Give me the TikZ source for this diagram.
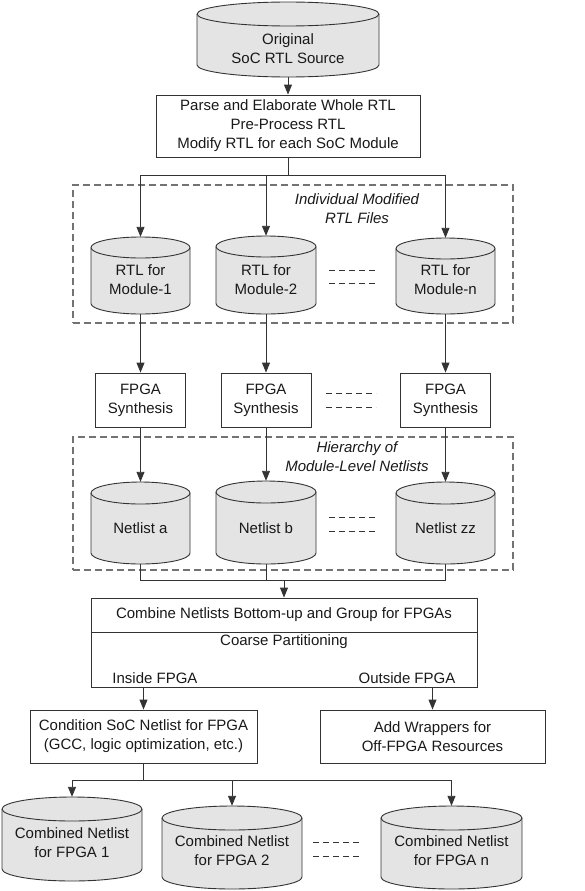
\documentclass[tikz,border=0pt]{standalone}
\usepackage{fontspec}
\setmainfont{Liberation Sans}
\usetikzlibrary{arrows.meta}
\definecolor{cylfill}{HTML}{E4E4E4}
\definecolor{ln}{HTML}{333333}
\newcommand\fs{\fontsize{15}{19}\selectfont}
\tikzset{
 base/.style={line width=0.9pt, draw=ln},
 arr/.style={base, -{Triangle[length=10pt,width=8pt]}},
 boxnode/.style={draw=ln, line width=0.9pt, inner sep=0pt, align=center, font=\fs, text=black!90},
 txt/.style={inner sep=0pt, align=center, font=\fs, text=black!90},
 dbox/.style={draw=black!55, line width=1.2pt, dash pattern=on 7pt off 4pt, inner sep=0pt},
 dots/.style={draw=ln, line width=0.9pt, dash pattern=on 6pt off 4pt},
}
\newcommand\mycyl[8]{%
 \filldraw[fill=cylfill, draw=ln, line width=0.9pt] (#2-#5,#3+#6) -- (#2-#5,#4-#6)
   arc[start angle=180,end angle=0,x radius=#5pt,y radius=#6pt] -- (#2+#5,#3+#6)
   arc[start angle=0,end angle=-180,x radius=#5pt,y radius=#6pt] -- cycle;
 \draw[base] (#2-#5,#3+#6) arc[start angle=180,end angle=0,x radius=#5pt,y radius=#6pt];
 \node[inner sep=0pt, minimum width=#5*2pt, minimum height=(#4-#3)*1pt] (#1) at (#2,{(#3+#4)/2}) {};
 \node[txt] (#1t) at (#2,#7) {#8};
}
\begin{document}
\begin{tikzpicture}[x=1pt,y=1pt,yscale=-1]
\useasboundingbox (0,0) rectangle (584,891);

% top
\mycyl{src}{288}{2}{77}{91}{12}{49}{Original\\SoC RTL Source}
\node[boxnode, minimum width=264pt, minimum height=62pt] (parse) at (288,126) {Parse and Elaborate Whole RTL\\Pre-Process RTL\\Modify RTL for each SoC Module};

% group 1
\node[dbox, minimum width=440pt, minimum height=138pt] (g1) at (293,254) {};
\node[txt, font=\fs\itshape] (g1l) at (357,209) {Individual Modified\\RTL Files};
\mycyl{r1}{140.5}{237}{314}{49.5}{10.5}{280}{RTL for\\Module-1}
\mycyl{r2}{266}{236}{314}{50}{10.5}{280}{RTL for\\Module-2}
\mycyl{rn}{445.5}{238}{314}{49.5}{10.5}{280}{RTL for\\Module-n}
\draw[dots] (329,270) -- (378,270);
\draw[dots] (329,283) -- (378,283);

% synthesis
\node[boxnode, minimum width=90pt, minimum height=54pt] (s1) at (140.5,400) {FPGA\\Synthesis};
\node[boxnode, minimum width=90pt, minimum height=54pt] (s2) at (266,400) {FPGA\\Synthesis};
\node[boxnode, minimum width=90pt, minimum height=54pt] (s3) at (445.5,400) {FPGA\\Synthesis};
\draw[dots] (326,393) -- (376,393);
\draw[dots] (326,407) -- (376,407);

% group 2
\node[dbox, minimum width=440pt, minimum height=133pt] (g2) at (293,503.5) {};
\node[txt, font=\fs\itshape] (g2l) at (357,457) {Hierarchy of\\Module-Level Netlists};
\mycyl{n1}{140.5}{482}{564}{49.5}{11}{528}{Netlist a}
\mycyl{n2}{266}{481}{564}{50}{11}{528}{Netlist b}
\mycyl{nz}{445.5}{482}{564}{49.5}{11}{528}{Netlist zz}
\draw[dots] (329,517) -- (378,517);
\draw[dots] (329,531) -- (378,531);

% combine
\node[draw=ln, line width=0.9pt, inner sep=0pt, minimum width=386pt, minimum height=89pt] (comb) at (284,642.5) {};
\path (comb.north west) ++(0,35) coordinate (cl);
\draw[base] (cl) -- (cl -| comb.east);
\node[txt] (combt) at (284,615) {Combine Netlists Bottom-up and Group for FPGAs};
\node[txt] (coarse) at (284,642) {Coarse Partitioning};
\node[txt] (inside) at (155,678) {Inside FPGA};
\node[txt] (outside) at (407,678) {Outside FPGA};

\node[boxnode, minimum width=227pt, minimum height=53pt] (cond) at (143.5,736.5) {Condition SoC Netlist for FPGA\\(GCC, logic optimization, etc.)};
\node[boxnode, minimum width=225pt, minimum height=53pt] (wrap) at (432.5,736.5) {Add Wrappers for\\Off-FPGA Resources};

% bottom
\mycyl{f1}{72}{797}{881}{70}{12}{843}{Combined Netlist\\for FPGA 1}
\mycyl{f2}{232}{806}{889}{70}{12}{851}{Combined Netlist\\for FPGA 2}
\mycyl{fn}{451.5}{806}{889}{70.5}{12}{851}{Combined Netlist\\for FPGA n}
\draw[dots] (313,842) -- (359,842);
\draw[dots] (313,856) -- (359,856);

% connectors
\draw[arr] (src.south) -- (parse.north);
\coordinate (j1) at (288,175);
\draw[base] (parse.south) -- (j1);
\draw[arr] (j1) -| (r1.north);
\draw[arr] (j1) -| (r2.north);
\draw[arr] (j1) -| (rn.north);
\draw[arr] (r1.south) -- (s1.north);
\draw[arr] (r2.south) -- (s2.north);
\draw[arr] (rn.south) -- (s3.north);
\draw[arr] (s1.south) -- (n1.north);
\draw[arr] (s2.south) -- (n2.north);
\draw[arr] (s3.south) -- (nz.north);
\coordinate (j2) at (284,580);
\draw[base] (n1.south) |- (j2);
\draw[base] (n2.south) |- (j2);
\draw[base] (nz.south) |- (j2);
\draw[arr] (j2) -- (comb.north);
\draw[arr] (comb.south -| cond.north) -- (cond.north);
\draw[arr] (comb.south -| wrap.north) -- (wrap.north);
\coordinate (j3) at (143.5,780);
\draw[base] (cond.south) -- (j3);
\draw[arr] (j3) -| (f1.north);
\draw[arr] (j3) -| (f2.north);
\draw[arr] (j3) -| (fn.north);
\end{tikzpicture}
\end{document}
